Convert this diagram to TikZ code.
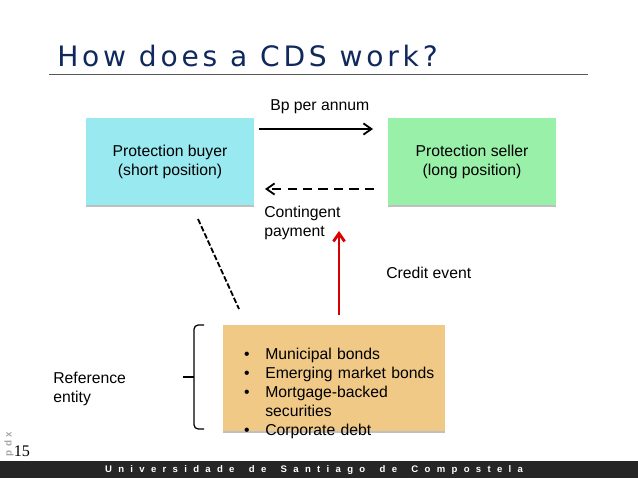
\documentclass[tikz,border=0pt]{standalone}
\usepackage{xcolor}
\usepackage{fontspec}
\setmainfont{Liberation Sans}
\newfontfamily\titlefont[LetterSpace=13.5]{DejaVu Sans}
\newfontfamily\footfont[LetterSpace=66,WordSpace=1.6]{Liberation Sans}
\newfontfamily\logofont{Liberation Sans}
\newfontfamily\pagefont{Liberation Serif}
\usetikzlibrary{arrows, arrows.meta}
\usetikzlibrary{positioning}
\usetikzlibrary{shadows}
\definecolor{buyercolor}{HTML}{99E9F0}
\definecolor{sellercolor}{HTML}{99F0A8}
\definecolor{entitycolor}{HTML}{F0C987}
\definecolor{titlecolor}{HTML}{10295C}
\definecolor{barcolor}{HTML}{262626}
\tikzset{
  party/.style={minimum width=4.2cm, minimum height=2.175cm, align=center, font=\fontsize{11.2}{13.6}\selectfont,
    drop shadow={shadow xshift=0pt, shadow yshift=-0.4mm, opacity=0.25, fill=black}},
  label/.style={align=left, anchor=west, inner sep=0pt, font=\fontsize{11.2}{13.6}\selectfont},
  flow/.style={line width=1.3pt, -{Straight Barb[length=2mm,width=2.8mm]}},
}
\begin{document}
\begin{tikzpicture}[x=0.025cm, y=-0.025cm]
  \useasboundingbox (0,0) rectangle (638,479);

  % heading
  \node[anchor=base west, inner sep=0pt, text=titlecolor, font=\titlefont\fontsize{20}{24}\selectfont] (title) at (57,67) {How does a CDS work?};
  \coordinate (ruleleft) at (49,74);
  \coordinate (ruleright) at (588,74);
  \draw[black!65, line width=0.5pt] (ruleleft) -- (ruleright);

  % parties
  \node[party, fill=buyercolor] (buyer) at (170,161.5) {Protection buyer\\(short position)};
  \node[party, fill=sellercolor] (seller) at (472,161.5) {Protection seller\\(long position)};
  \node[party, fill=entitycolor, minimum width=5.55cm, minimum height=2.65cm] (entity) at (334,378) {};

  % bullets
  \node[label, text width=4.4cm] (bonds) at (265,393.5) {Municipal bonds\\Emerging market bonds\\Mortgage-backed\\securities\\Corporate debt};
  \foreach \y in {355.5,374.5,393.5,431.5}
    \node[inner sep=0pt, font=\fontsize{11.2}{13.6}\selectfont] at (247,\y) {\textbullet};

  % labels
  \node[label] (premium) at (270,107) {Bp per annum};
  \node[label] (payment) at (264,223) {Contingent\\payment};
  \node[label] (event) at (386,273) {Credit event};
  \node[label] (reference) at (53,389) {Reference\\entity};

  % flows
  \coordinate (premiumstart) at (259,129);
  \coordinate (premiumend) at (373,129);
  \draw[flow] (premiumstart) -- (premiumend);
  \coordinate (paystart) at (374,189);
  \coordinate (payend) at (265,189);
  \draw[flow, dash pattern=on 6.5pt off 4.5pt] (paystart) -- (payend);
  \coordinate (eventstart) at (339,315);
  \coordinate (eventend) at (339,231);
  \draw[flow, red!85!black, line width=2pt] (eventstart) -- (eventend);
  \coordinate (linktop) at (198,219);
  \coordinate (linkbottom) at (239,309);
  \draw[line width=1.3pt, dash pattern=on 4pt off 1.6pt] (linktop) -- (linkbottom);

  % brace
  \coordinate (bracetop) at (204,325);
  \coordinate (bracebottom) at (204,429);
  \coordinate (bracemid) at (194,377);
  \coordinate (bracenub) at (183,377);
  \draw[line width=0.9pt, rounded corners=3pt] (bracetop) -- (bracemid|-bracetop) -- (bracemid|-bracebottom) -- (bracebottom);
  \draw[line width=0.9pt] (bracenub) -- (bracemid);

  % footer
  \fill[barcolor] (0,461) rectangle (638,478);
  \node[inner sep=0pt, text=white, font=\footfont\bfseries\fontsize{6.8}{8}\selectfont] (university) at (314,470) {Universidade de Santiago de Compostela};
  \node[inner sep=0pt, font=\pagefont\fontsize{11.5}{13}\selectfont] (pagenumber) at (22,451) {15};
  \node[inner sep=0pt, rotate=90, text=black!35, font=\logofont\bfseries\fontsize{7}{8}\selectfont] (logo) at (9,444) {p\,\,d\,\,x};
\end{tikzpicture}
\end{document}
